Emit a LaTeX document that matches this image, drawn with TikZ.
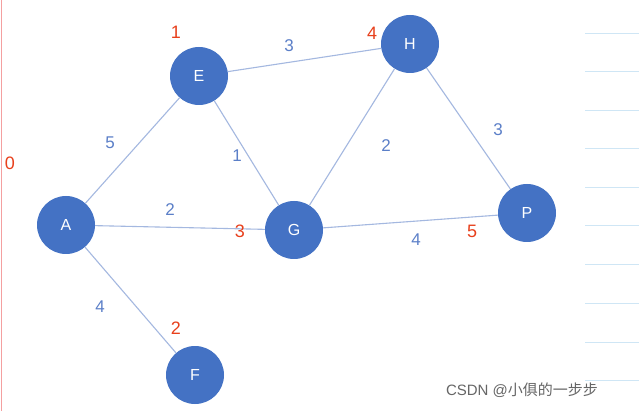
\documentclass[tikz,border=0pt]{standalone}
\usepackage{fontspec}
\setmainfont{Liberation Sans}
\newfontfamily\cjk{Noto Sans CJK SC}
\definecolor{nodeblue}{HTML}{4472C4}
\definecolor{edgeblue}{HTML}{A4B8E0}
\definecolor{lab}{HTML}{5B7FC8}
\definecolor{redlab}{HTML}{E8401C}
\definecolor{lineblue}{HTML}{CFE6F5}
\definecolor{pinkline}{HTML}{F4A0A0}
\begin{document}
\begin{tikzpicture}[x=1pt,y=-1pt,
  vert/.style={circle,fill=nodeblue,text=white,minimum size=58pt,inner sep=0pt,font=\fontsize{16}{16}\selectfont},
  edge/.style={draw=edgeblue,line width=1.1pt},
  wlab/.style={text=lab,font=\fontsize{17}{17}\selectfont},
  rlab/.style={text=redlab,font=\fontsize{18}{18}\selectfont}]
\useasboundingbox (0,0) rectangle (639,411);
\fill[white] (0,0) rectangle (639,411);
\draw[pinkline,line width=1pt] (1,0) -- (1,411);
\foreach \y in {34,72,111,149,188,226,265,303,342,380}
  \draw[lineblue,line width=1pt] (585,\y) -- (639,\y);
\node[vert] (A) at (66,225) {A};
\node[vert] (E) at (199,76) {E};
\node[vert] (H) at (410,44) {H};
\node[vert] (G) at (294,230) {G};
\node[vert] (P) at (527,213) {P};
\node[vert] (F) at (195,375) {F};
\draw[edge] (A) -- (E);
\draw[edge] (A) -- (G);
\draw[edge] (A) -- (F);
\draw[edge] (E) -- (H);
\draw[edge] (E) -- (G);
\draw[edge] (H) -- (G);
\draw[edge] (H) -- (P);
\draw[edge] (G) -- (P);
\node[wlab] (w1) at (110,143) {5};
\node[wlab] (w2) at (289,46) {3};
\node[wlab] (w3) at (237,156) {1};
\node[wlab] (w4) at (386,146) {2};
\node[wlab] (w5) at (498,130) {3};
\node[wlab] (w6) at (170,210) {2};
\node[wlab] (w7) at (416,240) {4};
\node[wlab] (w8) at (100,307) {4};
\node[rlab] (r1) at (176,32) {1};
\node[rlab] (r2) at (372,33) {4};
\node[rlab] (r3) at (10,163) {0};
\node[rlab] (r4) at (240,231) {3};
\node[rlab] (r5) at (472,231) {5};
\node[rlab] (r6) at (176,328) {2};
\node[text=gray!80!black,font=\fontsize{15}{15}\selectfont] (wm) at (522,390) {CSDN @{\cjk 小俱的一步步}};
\end{tikzpicture}
\end{document}
